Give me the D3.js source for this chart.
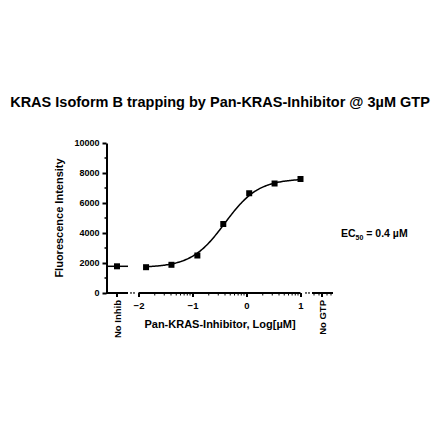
<!DOCTYPE html>
<html><head><meta charset="utf-8">
<script src="https://cdn.jsdelivr.net/npm/d3@7"></script>
<style>body{margin:0;background:#fff}text{font-family:"Liberation Sans",Arial,sans-serif;font-weight:bold}</style>
</head><body><svg id="c" width="440" height="440"></svg>
<script>
// data
const logDose = [-1.86, -1.39, -0.91, -0.43, 0.05, 0.52, 1.0]
const signal = [1720, 1880, 2500, 4600, 6650, 7300, 7600]
const noInhib = 1780
const yTicks = [0, 2000, 4000, 6000, 8000, 10000]
const xTicks = [-2, -1, 0, 1]
// fit params (4PL)
const fitBottom = 1700, fitTop = 7620, logEC50 = -0.4, hill = 1.4

const svg = d3.select('#c')
const y = d3.scaleLinear().domain([0, 10000]).range([293, 143])
const x = d3.scaleLinear().domain([-2, 1]).range([138.5, 300.5])

svg.append('text').attr('x', 220).attr('y', 107).attr('text-anchor', 'middle')
    .attr('font-size', 14.5).text('KRAS Isoform B trapping by Pan-KRAS-Inhibitor @ 3µM GTP')

// y axis
const ya = svg.append('g').attr('transform', 'translate(106.5,0)')
    .call(d3.axisLeft(y).tickValues(yTicks).tickFormat(d3.format('d')).tickSize(4).tickSizeOuter(0))
ya.selectAll('text').attr('font-size', 9).attr('font-weight', 'bold')
ya.selectAll('line,path').attr('stroke', '#000').attr('stroke-width', 2)
ya.append('g').selectAll('line').data(d3.range(1000, 10000, 2000)).join('line')
    .attr('x1', -2).attr('x2', 0).attr('y1', d => y(d)).attr('y2', d => y(d))
    .attr('stroke', '#000').attr('stroke-width', 1.5)

svg.append('text').attr('transform', 'translate(63,218) rotate(-90)')
    .attr('text-anchor', 'middle').attr('font-size', 11).text('Fluorescence Intensity')

// x axis, main segment
const xa = svg.append('g').attr('transform', 'translate(0,293)')
    .call(d3.axisBottom(x).tickValues(xTicks).tickFormat(d3.format('d')).tickSize(4).tickSizeOuter(0))
xa.select('.domain').attr('d', `M${x(-2)},0H${x(1)}`)
xa.selectAll('line,path').attr('stroke', '#000').attr('stroke-width', 2)
xa.selectAll('text').attr('font-size', 9.5).attr('font-weight', 'bold').attr('dy', '0.9em')
const minors = []
xTicks.slice(0, -1).forEach(t => d3.range(2, 10).forEach(k => minors.push(t + Math.log10(k))))
xa.append('g').selectAll('line').data(minors).join('line')
    .attr('x1', d => x(d)).attr('x2', d => x(d)).attr('y1', 0).attr('y2', 2.5)
    .attr('stroke', '#000').attr('stroke-width', 1)

// side segments
const segs = [[106, 128], [312, 333]]
segs.forEach(s => svg.append('line').attr('x1', s[0]).attr('x2', s[1]).attr('y1', 293).attr('y2', 293)
    .attr('stroke', '#000').attr('stroke-width', 2))
const dots = [131, 134, 306, 309]
svg.selectAll('.dot').data(dots).join('rect').attr('x', d => d - 0.75).attr('y', 292.2)
    .attr('width', 1.5).attr('height', 1.5).attr('fill', '#000')
;[117, 322].forEach(px => svg.append('line').attr('x1', px).attr('x2', px).attr('y1', 293).attr('y2', 297)
    .attr('stroke', '#000').attr('stroke-width', 2))
;[314, 319, 327, 331].forEach(px => svg.append('line').attr('x1', px).attr('x2', px).attr('y1', 293).attr('y2', 295.5)
    .attr('stroke', '#000').attr('stroke-width', 1))
svg.append('text').attr('transform', 'translate(121,300) rotate(-90)').attr('text-anchor', 'end')
    .attr('font-size', 9.5).text('No Inhib')
svg.append('text').attr('transform', 'translate(326,300) rotate(-90)').attr('text-anchor', 'end')
    .attr('font-size', 9.5).text('No GTP')

svg.append('text').attr('x', 220).attr('y', 328).attr('text-anchor', 'middle')
    .attr('font-size', 11).text('Pan-KRAS-Inhibitor, Log[µM]')

// fit curve
const fit = d => fitBottom + (fitTop - fitBottom) / (1 + Math.pow(10, (logEC50 - d) * hill))
svg.append('path').datum(d3.range(-1.86, 1.0001, 0.02))
    .attr('d', d3.line().x(d => x(d)).y(d => y(fit(d))))
    .attr('fill', 'none').attr('stroke', '#000').attr('stroke-width', 1.5)
svg.append('line').attr('x1', 106).attr('x2', 128).attr('y1', y(noInhib)).attr('y2', y(noInhib))
    .attr('stroke', '#000').attr('stroke-width', 1.5)

// points
svg.selectAll('.pt').data(logDose).join('rect')
    .attr('x', d => x(d) - 3).attr('y', (d, i) => y(signal[i]) - 3)
    .attr('width', 6).attr('height', 6).attr('fill', '#000')
svg.append('rect').attr('x', 114).attr('y', y(noInhib) - 3).attr('width', 6).attr('height', 6).attr('fill', '#000')

const ec = svg.append('text').attr('x', 341).attr('y', 237).attr('font-size', 10.5).attr('font-weight', 'normal')
ec.append('tspan').text('EC')
ec.append('tspan').attr('font-size', 7).attr('dy', 3).text('50')
ec.append('tspan').attr('dy', -3).text(' = 0.4 µM')
</script></body></html>
